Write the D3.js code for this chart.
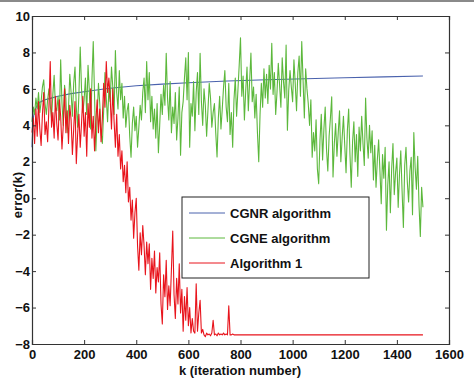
<!DOCTYPE html>
<html>
<head>
<meta charset="utf-8">
<script src="https://cdn.jsdelivr.net/npm/d3@7"></script>
<style>
	body { margin: 0; background: #fff; }
	text { font-family: "Liberation Sans", Arial, sans-serif; font-weight: bold; }
</style>
</head>
<body>
<script>

// x ticks and y ticks
var xTicks = [0, 200, 400, 600, 800, 1000, 1200, 1400, 1600];
var yTicks = [-8, -6, -4, -2, 0, 2, 4, 6, 8, 10];

var seriesNames = ["CGNR algorithm", "CGNE algorithm", "Algorithm 1"];

// CGNR: smooth curve, [k, error]
var cgnr = [[0,2.8],[2,3.6],[5,4.4],[10,4.8],[20,5.1],[30,5.27],[50,5.4],[70,5.48],[100,5.6],[150,5.74],
	[220,5.88],[290,6.02],[400,6.17],[500,6.26],[600,6.34],[750,6.43],[900,6.5],[1050,6.56],[1200,6.61],
	[1350,6.66],[1500,6.71]];

// CGNE: one value every 5 iterations, k = 0..1500
var cgneStep = 5;
var cgne = [
	4.2, 5.0, 4.6, 5.5, 4.9, 5.8, 4.7, 5.3, 6.1, 6.5, 5.2, 4.6, 5.4, 6.0, 5.1, 4.4, 5.7, 6.75, 5.0, 4.8,
	5.6, 4.3, 7.6, 5.2, 4.0, 6.2, 5.5, 3.6, 4.9, 6.8, 5.8, 4.5, 6.3, 7.2, 5.0, 3.9, 5.7, 8.3, 6.0, 4.7,
	5.4, 6.6, 4.6, 7.3, 5.9, 3.8, 6.5, 8.6, 5.6, 2.6, 4.5, 6.3, 5.2, 3.6, 3.0, 4.8, 6.9, 5.5, 4.2, 6.0,
	5.3, 7.2, 6.1, 4.6, 8.1, 5.8, 4.9, 7.0, 5.4, 6.3, 4.4, 5.6, 3.9, 4.8, 5.2, 3.4, 2.25, 4.1, 5.0, 3.7,
	4.5, 2.8, 3.9, 5.1, 4.3, 5.8, 6.6, 4.7, 7.5, 5.4, 6.9, 4.2, 5.6, 3.8, 4.9, 3.3, 5.2, 2.5, 4.0, 5.7,
	4.6, 6.2, 5.1, 7.95, 5.5, 4.3, 6.4, 3.6, 5.0, 4.1, 5.8, 3.2, 4.4, 6.1, 2.36, 4.7, 5.3, 6.6, 7.7, 5.4,
	8.0, 2.8, 5.2, 4.5, 6.4, 3.7, 5.8, 6.9, 4.6, 7.95, 5.3, 4.0, 6.0, 5.1, 3.4, 4.8, 6.3, 5.5, 3.9, 4.7,
	5.2, 3.6, 2.26, 4.4, 5.6, 3.8, 4.9, 6.1, 7.0, 5.0, 4.2, 6.3, 3.5, 4.7, 2.8, 5.4, 6.6, 4.5, 5.9, 7.3,
	8.8, 5.6, 6.7, 4.3, 5.9, 7.2, 4.8, 6.4, 7.96, 5.3, 6.1, 4.4, 5.7, 3.6, 2.0, 4.6, 6.3, 5.0, 7.1, 5.5,
	6.8, 5.2, 7.3, 6.0, 8.5, 5.7, 6.9, 4.6, 5.8, 7.4, 6.2, 5.0, 7.7, 6.4, 5.5, 8.4, 3.73, 5.9, 7.0, 6.1,
	5.3, 7.6, 6.3, 4.8, 6.9, 7.8, 5.6, 8.6, 6.5, 4.4, 7.1, 6.0, 5.2, 4.0, 5.4, 2.25, 3.6, 2.6, 4.3, 1.6,
	0.8, 3.2, 4.6, 2.1, 3.8, 5.0, 2.7, 1.5, 3.4, 4.4, 5.56, 1.17, 3.0, 4.1, 2.3, 3.6, 4.8, 2.0, 3.3, 4.5,
	2.9, 1.4, 3.7, 4.9, 2.4, 0.6, 3.1, 4.2, 2.0, 3.5, 1.2, 3.9, 2.6, 4.5, 3.0, 1.8, 5.5, 3.3, 2.2, 4.0,
	2.5, 3.7, 1.0, 2.9, 0.6, 2.1, 3.2, 1.5, -0.3, 2.4, 1.1, 2.8, -1.76, 0.7, 2.0, -0.8, 1.6, 3.0, 0.2, 1.4,
	2.2, -0.5, 1.3, 2.6, 0.4, -1.6, 1.8, 2.8, 0.9, -0.2, 1.5, 2.25, -0.9, 3.6, 1.7, 0.5, 2.3, -0.4, -2.1, 0.6,
	-0.5
];

// Algorithm 1: every 5 iterations up to k = 780, then flat until 1500
var algStep = 5;
var alg1 = [
	3.6, 4.4, 3.0, 4.9, 3.4, 5.3, 3.8, 2.9, 4.6, 5.8, 3.5, 4.2, 3.1, 5.0, 7.5, 3.9, 4.7, 3.3, 5.6, 4.1,
	3.2, 5.4, 4.5, 2.7, 4.0, 6.0, 3.6, 4.8, 3.0, 5.1, 4.3, 2.4, 3.8, 5.3, 1.9, 3.5, 4.6, 2.8, 4.1, 5.6,
	3.4, 4.7, 2.3, 5.2, 3.9, 6.0, 3.3, 4.5, 2.6, 4.2, 5.4, 3.6, 4.9, 3.1, 4.4, 6.3, 5.0, 7.5, 5.8, 6.6,
	5.5, 3.8, 6.0, 4.2, 2.8, 4.6, 2.3, 3.5, 1.6, 2.6, 0.9, 1.8, 0.3, 2.0, -0.2, 0.6, -1.2, -0.1, -2.2, -0.8,
	0.0, -2.6, -3.95, -1.9, -3.1, -1.5, -2.6, -4.2, -2.4, -3.6, -2.5, -5.0, -3.3, -4.4, -2.9, -5.2, -3.8, -4.6, -3.0, -5.8,
	-6.9, -4.2, -5.4, -3.4, -6.1, -4.8, -5.9, -3.9, -1.8, -5.3, -6.6, -4.4, -5.8, -3.6, -6.3, -5.0, -7.3, -5.4, -6.7, -4.9,
	-7.0, -6.0, -7.4, -6.6, -7.3, -7.4, -4.7, -7.3, -6.3, -5.6, -7.4, -7.2, -7.5, -7.6, -7.4, -7.5, -7.45, -7.55, -7.4, -6.7,
	-7.5, -7.45, -7.55, -7.4, -7.5, -7.45, -7.5, -7.4, -7.5, -7.45, -7.5, -5.9, -7.5, -7.5, -7.45, -7.5, -7.5
];
var algTail = [[1500, -7.5]];

var colors = ["#4a62ad", "#5cb83c", "#e8141c"];

var width = 474,
	height = 387;

let svg = d3.select("body").append("svg")
	.attr("width", width)
	.attr("height", height);

// gray strip along the top edge of the picture
svg.append("rect")
	.attr("x", 0).attr("y", 0)
	.attr("width", width).attr("height", 2)
	.attr("fill", "#8a8a8a");

// plot area
let plot = {left: 32, right: 449, top: 16, bottom: 344};

var xScale = d3.scaleLinear()
	.domain([0, 1600])
	.range([plot.left, plot.right]);

var yScale = d3.scaleLinear()
	.domain([-8, 10])
	.range([plot.bottom, plot.top]);

// build the point lists
var cgnePts = cgne.map((v, i) => [i * cgneStep, v]);
var algPts = alg1.map((v, i) => [i * algStep, v]).concat(algTail);
var allSeries = [cgnr, cgnePts, algPts];

var line = d3.line()
	.x(d => xScale(d[0]))
	.y(d => yScale(d[1]));

svg.append("g")
	.selectAll("path")
	.data(allSeries)
	.enter()
	.append("path")
	.attr("d", d => line(d))
	.attr("fill", "none")
	.attr("stroke", (d, i) => colors[i])
	.attr("stroke-width", 1.1)
	.attr("stroke-linejoin", "round");

// axes: ticks point inwards, like matlab
var tickLen = 4;

var xAxis = d3.axisBottom(xScale)
	.tickValues(xTicks)
	.tickSize(-tickLen)
	.tickPadding(6)
	.tickFormat(d3.format("d"));

var xAxisTop = d3.axisTop(xScale)
	.tickValues(xTicks)
	.tickSize(-tickLen)
	.tickFormat("");

var yAxis = d3.axisLeft(yScale)
	.tickValues(yTicks)
	.tickSize(-tickLen)
	.tickPadding(2)
	.tickFormat(d3.format("d"));

var yAxisRight = d3.axisRight(yScale)
	.tickValues(yTicks)
	.tickSize(-tickLen)
	.tickFormat("");

var axes = [
	svg.append("g").attr("transform", "translate(0," + plot.bottom + ")").call(xAxis),
	svg.append("g").attr("transform", "translate(0," + plot.top + ")").call(xAxisTop),
	svg.append("g").attr("transform", "translate(" + plot.left + ",0)").call(yAxis),
	svg.append("g").attr("transform", "translate(" + plot.right + ",0)").call(yAxisRight)
];

axes.forEach(g => {
	g.selectAll(".domain").attr("stroke", "#333").attr("stroke-width", 1.2);
	g.selectAll(".tick line").attr("stroke", "#333");
	g.selectAll(".tick text")
		.attr("fill", "#111")
		.style("font-size", "13px")
		.style("font-weight", "bold")
		.style("font-family", "'Liberation Sans', Arial, sans-serif");
});

// axis titles
svg.append("text")
	.text("k (iteration number)")
	.attr("x", 240)
	.attr("y", 375)
	.attr("text-anchor", "middle")
	.style("font-size", "13px")
	.attr("fill", "#111");

svg.append("text")
	.text("error(k)")
	.attr("transform", "translate(22,195)rotate(-90)")
	.attr("text-anchor", "middle")
	.style("font-size", "13px")
	.attr("fill", "#111");

// legend
var legend = svg.append("g");

legend.append("rect")
	.attr("x", 182).attr("y", 197)
	.attr("width", 187).attr("height", 81)
	.attr("fill", "#fff")
	.attr("stroke", "#222")
	.attr("stroke-width", 1);

var rows = legend.selectAll("g.row")
	.data(seriesNames)
	.enter()
	.append("g")
	.attr("class", "row")
	.attr("transform", (d, i) => "translate(0," + (213 + i * 25) + ")");

rows.append("line")
	.attr("x1", 189).attr("x2", 225)
	.attr("y1", 0).attr("y2", 0)
	.attr("stroke", (d, i) => colors[i])
	.attr("stroke-width", 1);

rows.append("text")
	.text(d => d)
	.attr("x", 230)
	.attr("y", 5)
	.style("font-size", "13px")
	.attr("fill", "#111");

</script>
</body>
</html>
